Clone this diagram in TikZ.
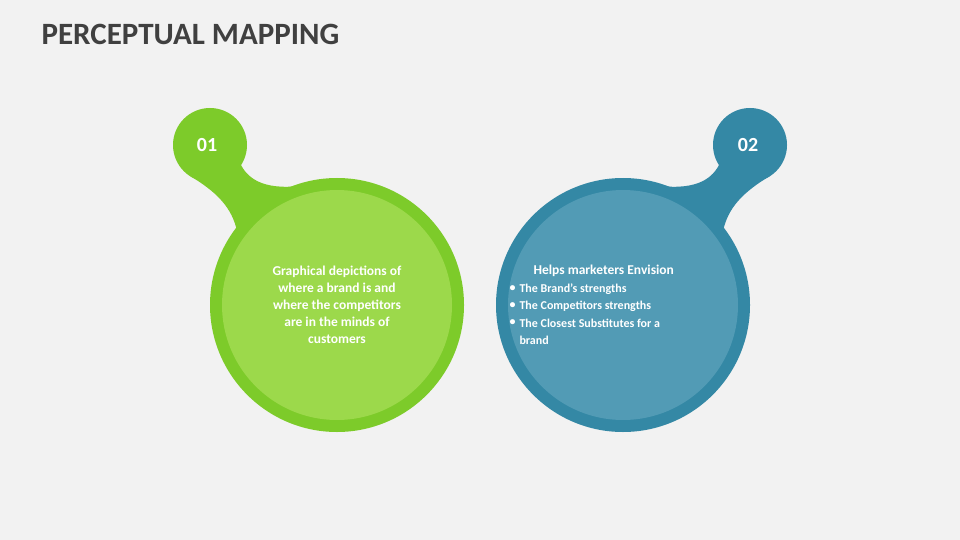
\documentclass[tikz,border=0pt]{standalone}
\usepackage{fontspec}
\setmainfont{Carlito}
\definecolor{bg}{HTML}{F2F2F2}
\definecolor{gOut}{HTML}{7DCB2A}
\definecolor{gIn}{HTML}{9CD94B}
\definecolor{bOut}{HTML}{3488A5}
\definecolor{bIn}{HTML}{529BB5}
\definecolor{ttl}{HTML}{404040}
\begin{document}
\begin{tikzpicture}[x=1pt,y=-1pt,
  txt/.style={text=white,font=\fontsize{13.5}{17}\selectfont\bfseries},
  num/.style={text=white,font=\fontsize{20}{24}\selectfont\bfseries}]
\fill[bg] (0,0) rectangle (960,540);
\useasboundingbox (0,0) rectangle (960,540);
\node[anchor=west,text=ttl,font=\fontsize{31}{36}\selectfont\bfseries] (title) at (38,34) {PERCEPTUAL MAPPING};
% green
\fill[gOut] (190,176) .. controls (222,195) and (234,212) .. (238,236) -- (300,186) .. controls (262,190) and (247,178) .. (240,163) -- cycle;
\fill[gOut] (337,305) circle (127);
\fill[gIn] (337,305) circle (115);
\fill[gOut] (210,145) circle (37);
\node[num] (n1) at (207,145) {01};
\node[txt,align=center] (t1) at (337,305) {Graphical depictions of\\where a brand is and\\where the competitors\\are in the minds of\\customers};
% blue
\fill[bOut] (770,176) .. controls (738,195) and (726,212) .. (722,236) -- (660,186) .. controls (698,190) and (713,178) .. (720,163) -- cycle;
\fill[bOut] (623,305) circle (127);
\fill[bIn] (623,305) circle (115);
\fill[bOut] (750,145) circle (37);
\node[num] (n2) at (748,145) {02};
\node[txt,anchor=west] (h2) at (530,271) {Helps marketers Envision};
\begin{scope}[every node/.style={txt,anchor=west,font=\fontsize{12}{14}\selectfont\bfseries}]
\node (b1) at (506,289) {•};
\node (l1) at (516,289) {The Brand’s strengths};
\node (b2) at (506,306) {•};
\node (l2) at (516,306) {The Competitors strengths};
\node (b3) at (506,323) {•};
\node (l3) at (516,323) {The Closest Substitutes for a};
\node (l4) at (516,340) {brand};
\end{scope}
\end{tikzpicture}
\end{document}
